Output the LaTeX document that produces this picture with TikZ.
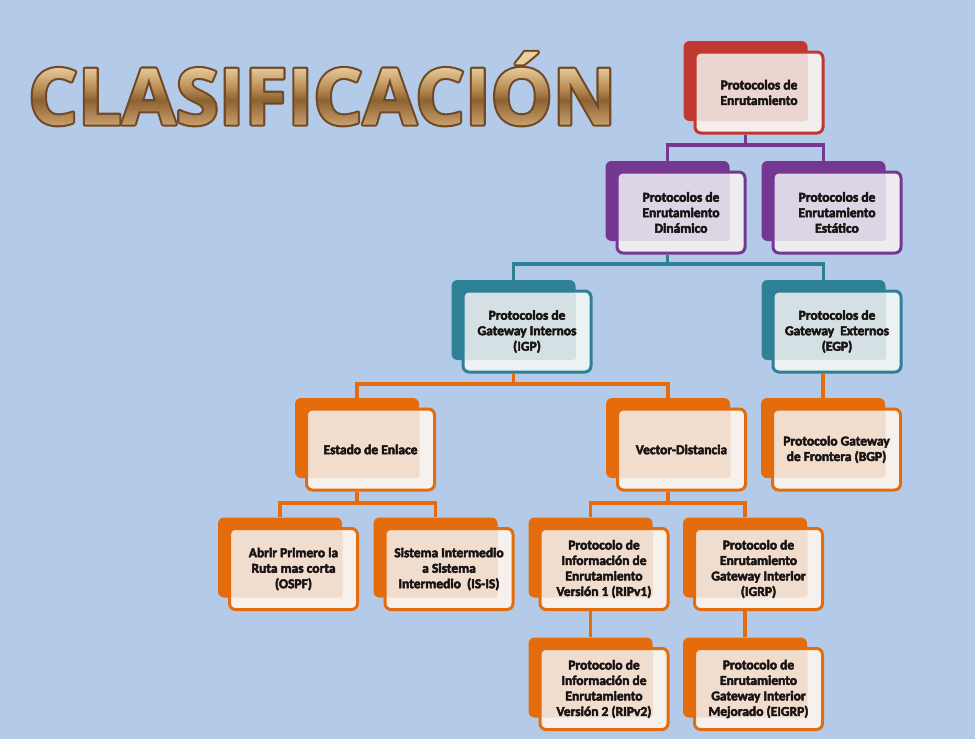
\documentclass[tikz,border=0pt]{standalone}
\usepackage{fontspec}
\setmainfont{Carlito}[BoldFeatures={FakeBold=3.5}]
\newfontfamily\titlefnt{Open Sans}
\definecolor{bg}{RGB}{179,203,233}
\definecolor{redm}{RGB}{192,56,46}
\definecolor{redi}{RGB}{234,213,209}
\definecolor{redo}{RGB}{243,237,237}
\definecolor{purm}{RGB}{116,56,146}
\definecolor{puri}{RGB}{222,213,228}
\definecolor{puro}{RGB}{239,236,241}
\definecolor{tealm}{RGB}{46,128,150}
\definecolor{teali}{RGB}{213,224,228}
\definecolor{tealo}{RGB}{236,241,243}
\definecolor{orm}{RGB}{228,108,12}
\definecolor{ori}{RGB}{240,221,206}
\definecolor{oro}{RGB}{247,241,237}
\definecolor{txt}{RGB}{25,20,20}
\tikzset{
  backbox/.style={fill=#1m, draw=none, rounded corners=6pt,
    minimum width=124pt, minimum height=80pt, inner sep=0pt},
  frontbox/.style={fill=#1o, draw=#1m, line width=3pt, rounded corners=6pt,
    minimum width=128pt, minimum height=81pt, inner sep=0pt, align=center,
    text=txt, font=\bfseries\fontsize{13.5}{15.5}\selectfont,
    path picture={\fill[#1i, rounded corners=3pt]
      ([shift={(1pt,-1pt)}]path picture bounding box.north west) rectangle
      ([shift={(-15pt,12pt)}]path picture bounding box.south east);}},
  conn/.style={draw=#1m, line width=3.4pt},
  titletext/.style={anchor=base west, inner sep=0pt,
    font=\titlefnt\bfseries\fontsize{78}{80}\selectfont}
}
\newcommand\mkbox[5]{%
  \node[backbox=#4] (#1-b) at (#2-13.5,#3-11.5) {};
  \node[frontbox=#4] (#1) at (#2,#3) {#5};
}
\newcommand\goldbegin{%
  \special{pdf:obj @goldsh << /ShadingType 2 /ColorSpace /DeviceRGB
    /Coords [0 670.5 0 608.7] /Extend [true true]
    /Function << /FunctionType 3 /Domain [0 1] /Bounds [0.35 0.55]
      /Encode [0 1 0 1 0 1]
      /Functions [
        << /FunctionType 2 /Domain [0 1] /C0 [0.918 0.808 0.627] /C1 [0.729 0.557 0.337] /N 1 >>
        << /FunctionType 2 /Domain [0 1] /C0 [0.729 0.557 0.337] /C1 [0.557 0.384 0.196] /N 1 >>
        << /FunctionType 2 /Domain [0 1] /C0 [0.557 0.384 0.196] /C1 [0.808 0.655 0.447] /N 1 >>
      ] >> >>}%
  \special{pdf:obj @goldpat << /PatternType 2 /Shading @goldsh >>}%
  \special{pdf:put @resources << /Pattern << /GoldP @goldpat >> >>}%
  \special{pdf:literal direct q /Pattern cs /GoldP scn 0.44 0.29 0.15 RG 4.2 w 1 j 2 Tr}%
}
\newcommand\goldend{\special{pdf:literal direct Q}}
\begin{document}
\begin{tikzpicture}[x=1pt,y=-1pt]
\useasboundingbox (0,0) rectangle (975,739);
\fill[bg] (0,0) rectangle (975,739);

% title
\node[titletext] (title) at (28,124.5) {\goldbegin CLASIFICACIÓN\goldend};

% boxes
\mkbox{top}{759}{92.5}{red}{Protocolos de\\Enrutamiento}
\mkbox{din}{681}{212.5}{pur}{Protocolos de\\Enrutamiento\\Dinámico}
\mkbox{est}{837}{212.5}{pur}{Protocolos de\\Enrutamiento\\Estático}
\mkbox{igp}{527}{331.5}{teal}{Protocolos de\\Gateway Internos\\(IGP)}
\mkbox{egp}{837}{331.5}{teal}{Protocolos de\\Gateway\ \ Externos\\(EGP)}
\mkbox{estado}{370.5}{449.5}{or}{Estado de Enlace}
\mkbox{vector}{681.5}{449.5}{or}{Vector-Distancia}
\mkbox{bgp}{836.5}{449.5}{or}{Protocolo Gateway\\de Frontera (BGP)}
\mkbox{ospf}{293.5}{569}{or}{Abrir Primero la\\Ruta mas corta\\(OSPF)}
\mkbox{isis}{449}{569}{or}{Sistema Intermedio\\a Sistema\\Intermedio\ \ (IS-IS)}
\mkbox{rip1}{604}{569}{or}{Protocolo de\\Información de\\Enrutamiento\\Versión 1 (RIPv1)}
\mkbox{igrp}{758.5}{569}{or}{Protocolo de\\Enrutamiento\\Gateway Interior\\(IGRP)}
\mkbox{rip2}{604}{689}{or}{Protocolo de\\Información de\\Enrutamiento\\Versión 2 (RIPv2)}
\mkbox{eigrp}{758.5}{689}{or}{Protocolo de\\Enrutamiento\\Gateway Interior\\Mejorado (EIGRP)}

% buses
\coordinate (bus1) at (0,145);
\coordinate (bus2) at (0,264);
\coordinate (bus3) at (0,384);
\coordinate (bus4) at (0,503);

% connectors
\draw[conn=pur] (top-b |- top.south) -- (top-b |- bus1);
\draw[conn=pur] (din-b.north) |- (est-b |- bus1) -- (est-b.north);
\draw[conn=teal] (din-b |- din.south) -- (din-b |- bus2);
\draw[conn=teal] (igp-b.north) |- (egp-b |- bus2) -- (egp-b.north);
\draw[conn=or] (igp-b |- igp.south) -- (igp-b |- bus3);
\draw[conn=or] (estado-b.north) |- (vector-b |- bus3) -- (vector-b.north);
\draw[conn=or] (bgp-b |- egp.south) -- (bgp-b.north);
\draw[conn=or] (estado-b |- estado.south) -- (estado-b |- bus4);
\draw[conn=or] (ospf-b.north) |- (isis-b |- bus4) -- (isis-b.north);
\draw[conn=or] (vector-b |- vector.south) -- (vector-b |- bus4);
\draw[conn=or] (rip1-b.north) |- (igrp-b |- bus4) -- (igrp-b.north);
\draw[conn=or] (rip1-b |- rip1.south) -- (rip2-b.north);
\draw[conn=or] (igrp-b |- igrp.south) -- (eigrp-b.north);
\end{tikzpicture}
\end{document}
